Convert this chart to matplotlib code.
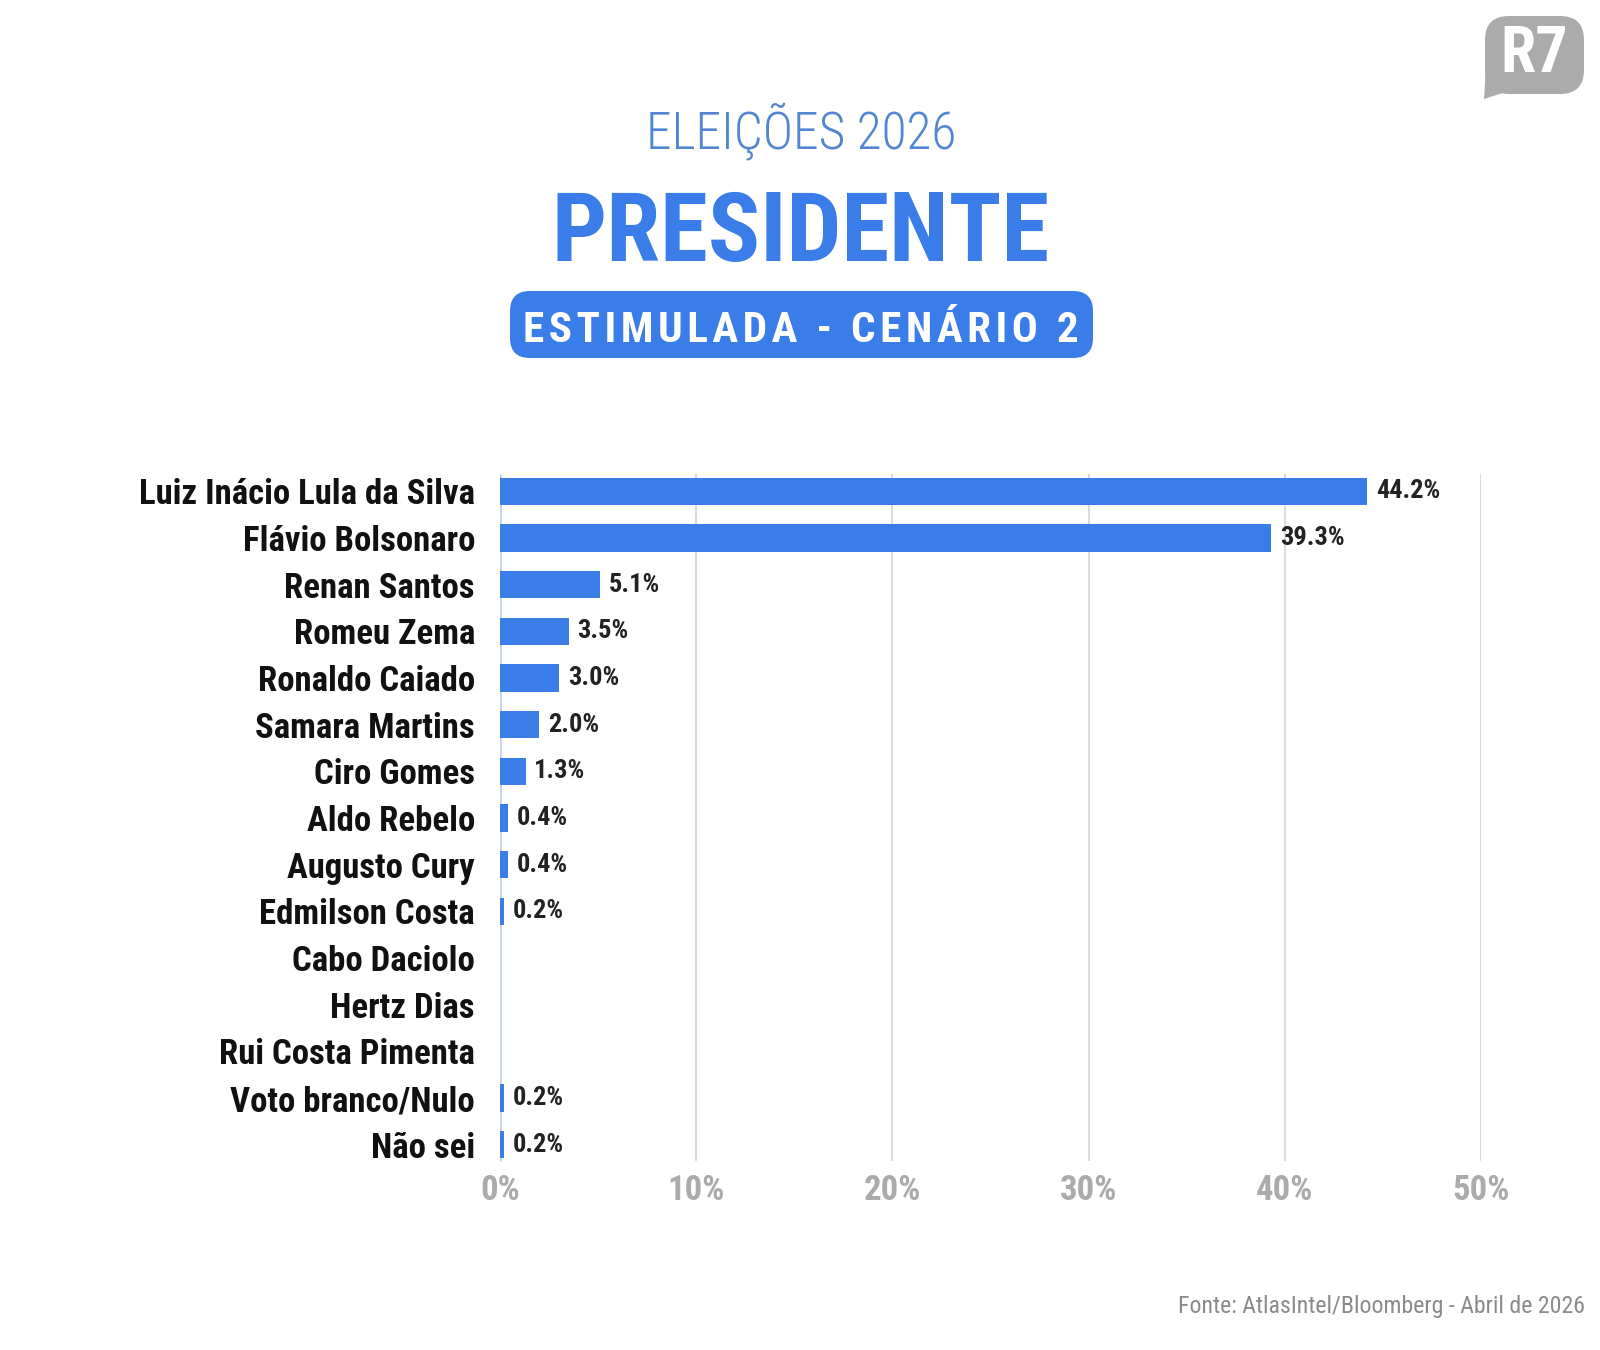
import matplotlib
matplotlib.use('Agg')
import matplotlib.pyplot as plt
from matplotlib import font_manager
from matplotlib.patches import FancyBboxPatch, Polygon

# Dados da pesquisa
candidatos = ['Luiz Inácio Lula da Silva', 'Flávio Bolsonaro', 'Renan Santos', 'Romeu Zema',
              'Ronaldo Caiado', 'Samara Martins', 'Ciro Gomes', 'Aldo Rebelo', 'Augusto Cury',
              'Edmilson Costa', 'Cabo Daciolo', 'Hertz Dias', 'Rui Costa Pimenta',
              'Voto branco/Nulo', 'Não sei']
valores = [44.2, 39.3, 5.1, 3.5, 3.0, 2.0, 1.3, 0.4, 0.4, 0.2, 0, 0, 0, 0.2, 0.2]
ticks = [0, 10, 20, 30, 40, 50]
tick_labels = ['0%', '10%', '20%', '30%', '40%', '50%']

# Procura uma fonte estreita (condensada)
fontes = font_manager.fontManager.ttflist
nomes_fontes = {f.name for f in fontes}
fonte, largura = 'DejaVu Sans', 'normal'
for n in ['Roboto Condensed', 'Liberation Sans Narrow', 'Open Sans Condensed']:
    if n in nomes_fontes:
        fonte = n
        break
else:
    for n in ['Noto Sans', 'Roboto', 'Open Sans', 'DejaVu Sans']:
        if any(f.name == n and str(f.stretch) in ('condensed', 'semi-condensed', '75', '87')
               for f in fontes):
            fonte, largura = n, 'condensed'
            break
plt.rcParams['font.family'] = [fonte, 'DejaVu Sans']
plt.rcParams['font.stretch'] = largura

azul = '#3b7de8'
azul_titulo = '#5286d2'

fig = plt.figure(figsize=(16, 13.5), dpi=100)
fig.patch.set_facecolor('white')
renderer = fig.canvas.get_renderer()


def ajusta(t, largura_alvo, tamanho_max):
    # reduz o tamanho da fonte para caber na largura da referencia
    t.set_fontsize(tamanho_max)
    w = t.get_window_extent(renderer).width
    if w > largura_alvo:
        t.set_fontsize(tamanho_max * largura_alvo / w)


ax_bg = fig.add_axes([0, 0, 1, 1])
ax_bg.set_xlim(0, 1600)
ax_bg.set_ylim(1350, 0)
ax_bg.axis('off')

# Titulos
t1 = ax_bg.text(801, 125, 'ELEIÇÕES 2026', ha='center', va='center_baseline',
                color=azul_titulo, fontweight='light')
ajusta(t1, 311, 38)
t2 = ax_bg.text(801, 225, 'PRESIDENTE', ha='center', va='center_baseline',
                color=azul, fontweight='bold')
ajusta(t2, 500, 70)

# Selo arredondado
badge = FancyBboxPatch((510, 291), 583, 67, boxstyle='round,pad=0,rounding_size=20',
                       facecolor=azul, edgecolor='none')
ax_bg.add_patch(badge)
t3 = ax_bg.text(801, 326, '\u200a'.join('ESTIMULADA - CENÁRIO 2'),
                ha='center', va='center_baseline', color='white', fontweight='bold')
ajusta(t3, 555, 36)

# Logo R7
logo = FancyBboxPatch((1485, 16), 99, 78, boxstyle='round,pad=0,rounding_size=24',
                      facecolor='#ababab', edgecolor='none')
ax_bg.add_patch(logo)
ax_bg.add_patch(Polygon([[1486, 66], [1484, 99], [1512, 90]], closed=True,
                        facecolor='#ababab', edgecolor='none'))
ax_bg.text(1534, 54, 'R7', ha='center', va='center', fontsize=46, color='white',
           fontweight='heavy')

# Fonte
t4 = ax_bg.text(1585, 1307, 'Fonte: AtlasIntel/Bloomberg - Abril de 2026', ha='right',
                va='center', color='#8a8a8a')
ajusta(t4, 407, 18)

# Grafico de barras
ax = fig.add_axes([500 / 1600, (1350 - 1168) / 1350, 981 / 1600, 700 / 1350])
ypos = list(range(len(candidatos)))
ax.barh(ypos, valores, height=0.58, color=azul, zorder=3)

# tamanho dos rotulos de valor
tv = ax_bg.text(0, 0, '44.2%', fontweight='bold')
ajusta(tv, 70, 19)
fs_val = tv.get_fontsize()
tv.remove()
for y, v in zip(ypos, valores):
    if v > 0:
        ax.text(v + 0.45, y, f'{v:.1f}%', ha='left', va='center', fontsize=fs_val,
                fontweight='bold', color='#222222', zorder=4)

# tamanho dos nomes e dos ticks
tn = ax_bg.text(0, 0, candidatos[0], fontweight='bold')
ajusta(tn, 340, 25)
fs_nome = tn.get_fontsize()
tn.remove()
tt = ax_bg.text(0, 0, '50%', fontweight='bold')
ajusta(tt, 61, 25)
fs_tick = tt.get_fontsize()
tt.remove()

ax.set_xlim(0, 50)
ax.set_ylim(len(candidatos) - 0.5, -0.5)
ax.set_xticks(ticks)
ax.set_xticklabels(tick_labels, fontsize=fs_tick, color='#ababab', fontweight='bold')
ax.set_yticks(ypos)
ax.set_yticklabels(candidatos, fontsize=fs_nome, fontweight='bold', color='#111111')
ax.tick_params(axis='both', length=0)
ax.tick_params(axis='y', pad=18)
ax.tick_params(axis='x', pad=4)
ax.vlines(ticks[1:], -0.37, 14.35, color='#dcdcdc', linewidth=1.5, zorder=0)
ax.vlines(0, -0.37, 14.35, color='#c8d4ea', linewidth=2, zorder=2)
for s in ax.spines.values():
    s.set_visible(False)

fig.savefig('out.png', dpi=100, facecolor='white')
